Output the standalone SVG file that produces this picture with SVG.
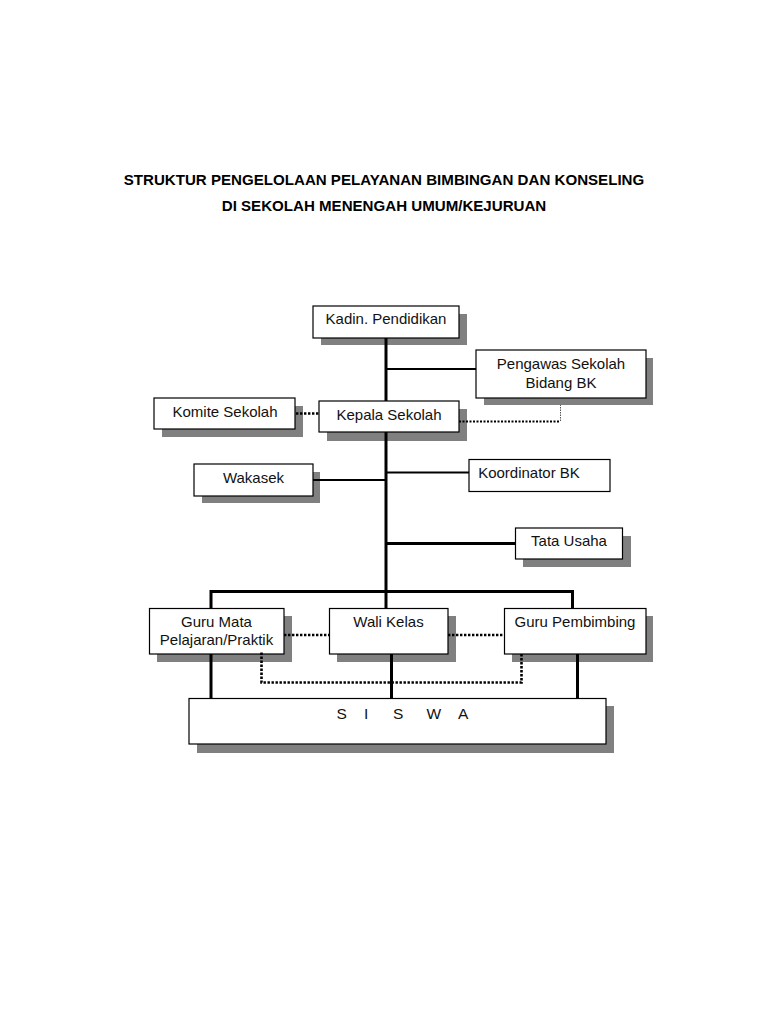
<svg xmlns="http://www.w3.org/2000/svg" width="768" height="1024" viewBox="0 0 768 1024">
<style>
.shadow{fill:#808080;}
.box{fill:#fff;stroke:#000;stroke-width:1.2;}
.t{font-family:"Liberation Sans",Arial,sans-serif;font-size:15px;fill:#111;text-anchor:middle;}
.title{font-family:"Liberation Sans",Arial,sans-serif;font-size:15.1px;font-weight:bold;fill:#000;text-anchor:middle;}
.thick{stroke:#000;stroke-width:3;fill:none;}
.mid{stroke:#000;stroke-width:2;fill:none;}
.dot{stroke:#000;stroke-width:2.6;stroke-dasharray:2.4 1.6;fill:none;}
.dotthin{stroke:#000;stroke-width:2;stroke-dasharray:2 1.5;fill:none;}
</style>
<rect width="768" height="1024" fill="#fff"/>
<g id="title">
<text class="title" x="384" y="185">STRUKTUR PENGELOLAAN PELAYANAN BIMBINGAN DAN KONSELING</text>
<text class="title" x="384" y="211">DI SEKOLAH MENENGAH UMUM/KEJURUAN</text>
</g>
<g id="node-kadin">
<rect class="shadow" x="321" y="314" width="146" height="31"/>
<rect class="box" x="313" y="306" width="146" height="32"/>
<text class="t" x="386" y="324">Kadin. Pendidikan</text>
</g>
<g id="node-pengawas">
<rect class="shadow" x="484" y="358" width="169" height="47"/>
<rect class="box" x="476" y="350" width="170" height="48"/>
<text class="t" x="561" y="369">Pengawas Sekolah</text>
<text class="t" x="561" y="387.5">Bidang BK</text>
</g>
<g id="node-komite">
<rect class="shadow" x="162" y="406" width="141" height="31"/>
<rect class="box" x="154" y="398" width="141" height="31"/>
<text class="t" x="225" y="417">Komite Sekolah</text>
</g>
<g id="node-kepala">
<rect class="shadow" x="327" y="409" width="140" height="32"/>
<rect class="box" x="319" y="401" width="140" height="31"/>
<text class="t" x="389" y="420">Kepala Sekolah</text>
</g>
<g id="node-wakasek">
<rect class="shadow" x="202" y="472" width="118" height="31"/>
<rect class="box" x="194" y="464" width="119" height="32"/>
<text class="t" x="253.5" y="482.5">Wakasek</text>
</g>
<g id="node-koordinator">
<rect class="box" x="469" y="459.5" width="141" height="32"/>
<text class="t" x="529" y="478">Koordinator BK</text>
</g>
<g id="node-tatausaha">
<rect class="shadow" x="523" y="536" width="108" height="31"/>
<rect class="box" x="515.5" y="528" width="107" height="31"/>
<text class="t" x="569" y="546">Tata Usaha</text>
</g>
<g id="node-gurumata">
<rect class="shadow" x="157" y="616" width="135" height="46"/>
<rect class="box" x="149.5" y="608.5" width="134.5" height="45.5"/>
<text class="t" x="216.5" y="627">Guru Mata</text>
<text class="t" x="216.5" y="645">Pelajaran/Praktik</text>
</g>
<g id="node-walikelas">
<rect class="shadow" x="337" y="616" width="119" height="46"/>
<rect class="box" x="329.5" y="608.5" width="118.5" height="45.5"/>
<text class="t" x="388.5" y="627">Wali Kelas</text>
</g>
<g id="node-gurupembimbing">
<rect class="shadow" x="512" y="616" width="141" height="46"/>
<rect class="box" x="504.5" y="608.5" width="141.5" height="45.5"/>
<text class="t" x="575" y="627">Guru Pembimbing</text>
</g>
<g id="node-siswa">
<rect class="shadow" x="197" y="706" width="417" height="47"/>
<rect class="box" x="189" y="698.5" width="417" height="45.5"/>
<text class="t" style="text-anchor:start;font-size:15.5px" x="336.5 364 393 426.5 458" y="719">SISWA</text>
</g>
<g id="connectors">
<line class="thick" x1="386" y1="338" x2="386" y2="401"/>
<line class="thick" x1="386" y1="432" x2="386" y2="608.5"/>
<line class="mid" x1="386" y1="369" x2="476" y2="369"/>
<line class="mid" x1="313" y1="480" x2="386" y2="480"/>
<line class="mid" x1="386" y1="472.5" x2="469" y2="472.5"/>
<line class="thick" x1="386" y1="543.5" x2="515.5" y2="543.5"/>
<polyline class="thick" points="211,608.5 211,591.5 572.5,591.5 572.5,608.5"/>
<line class="thick" x1="211" y1="654" x2="211" y2="698.5"/>
<line class="thick" x1="391.5" y1="654" x2="391.5" y2="698.5"/>
<line class="thick" x1="577.5" y1="654" x2="577.5" y2="698.5"/>
<line class="dot" x1="296" y1="413.5" x2="319" y2="413.5"/>
<polyline class="dotthin" points="459,421.5 560.5,421.5"/>
<line stroke="#555" stroke-width="1" stroke-dasharray="1.5 1" x1="560.5" y1="421" x2="560.5" y2="405"/>
<line class="dot" x1="284" y1="635" x2="329.5" y2="635"/>
<line class="dot" x1="448" y1="635" x2="504.5" y2="635"/>
<polyline class="dot" points="261.5,652.5 261.5,682.5 521.5,682.5 521.5,652.5"/>
</g>
</svg>
